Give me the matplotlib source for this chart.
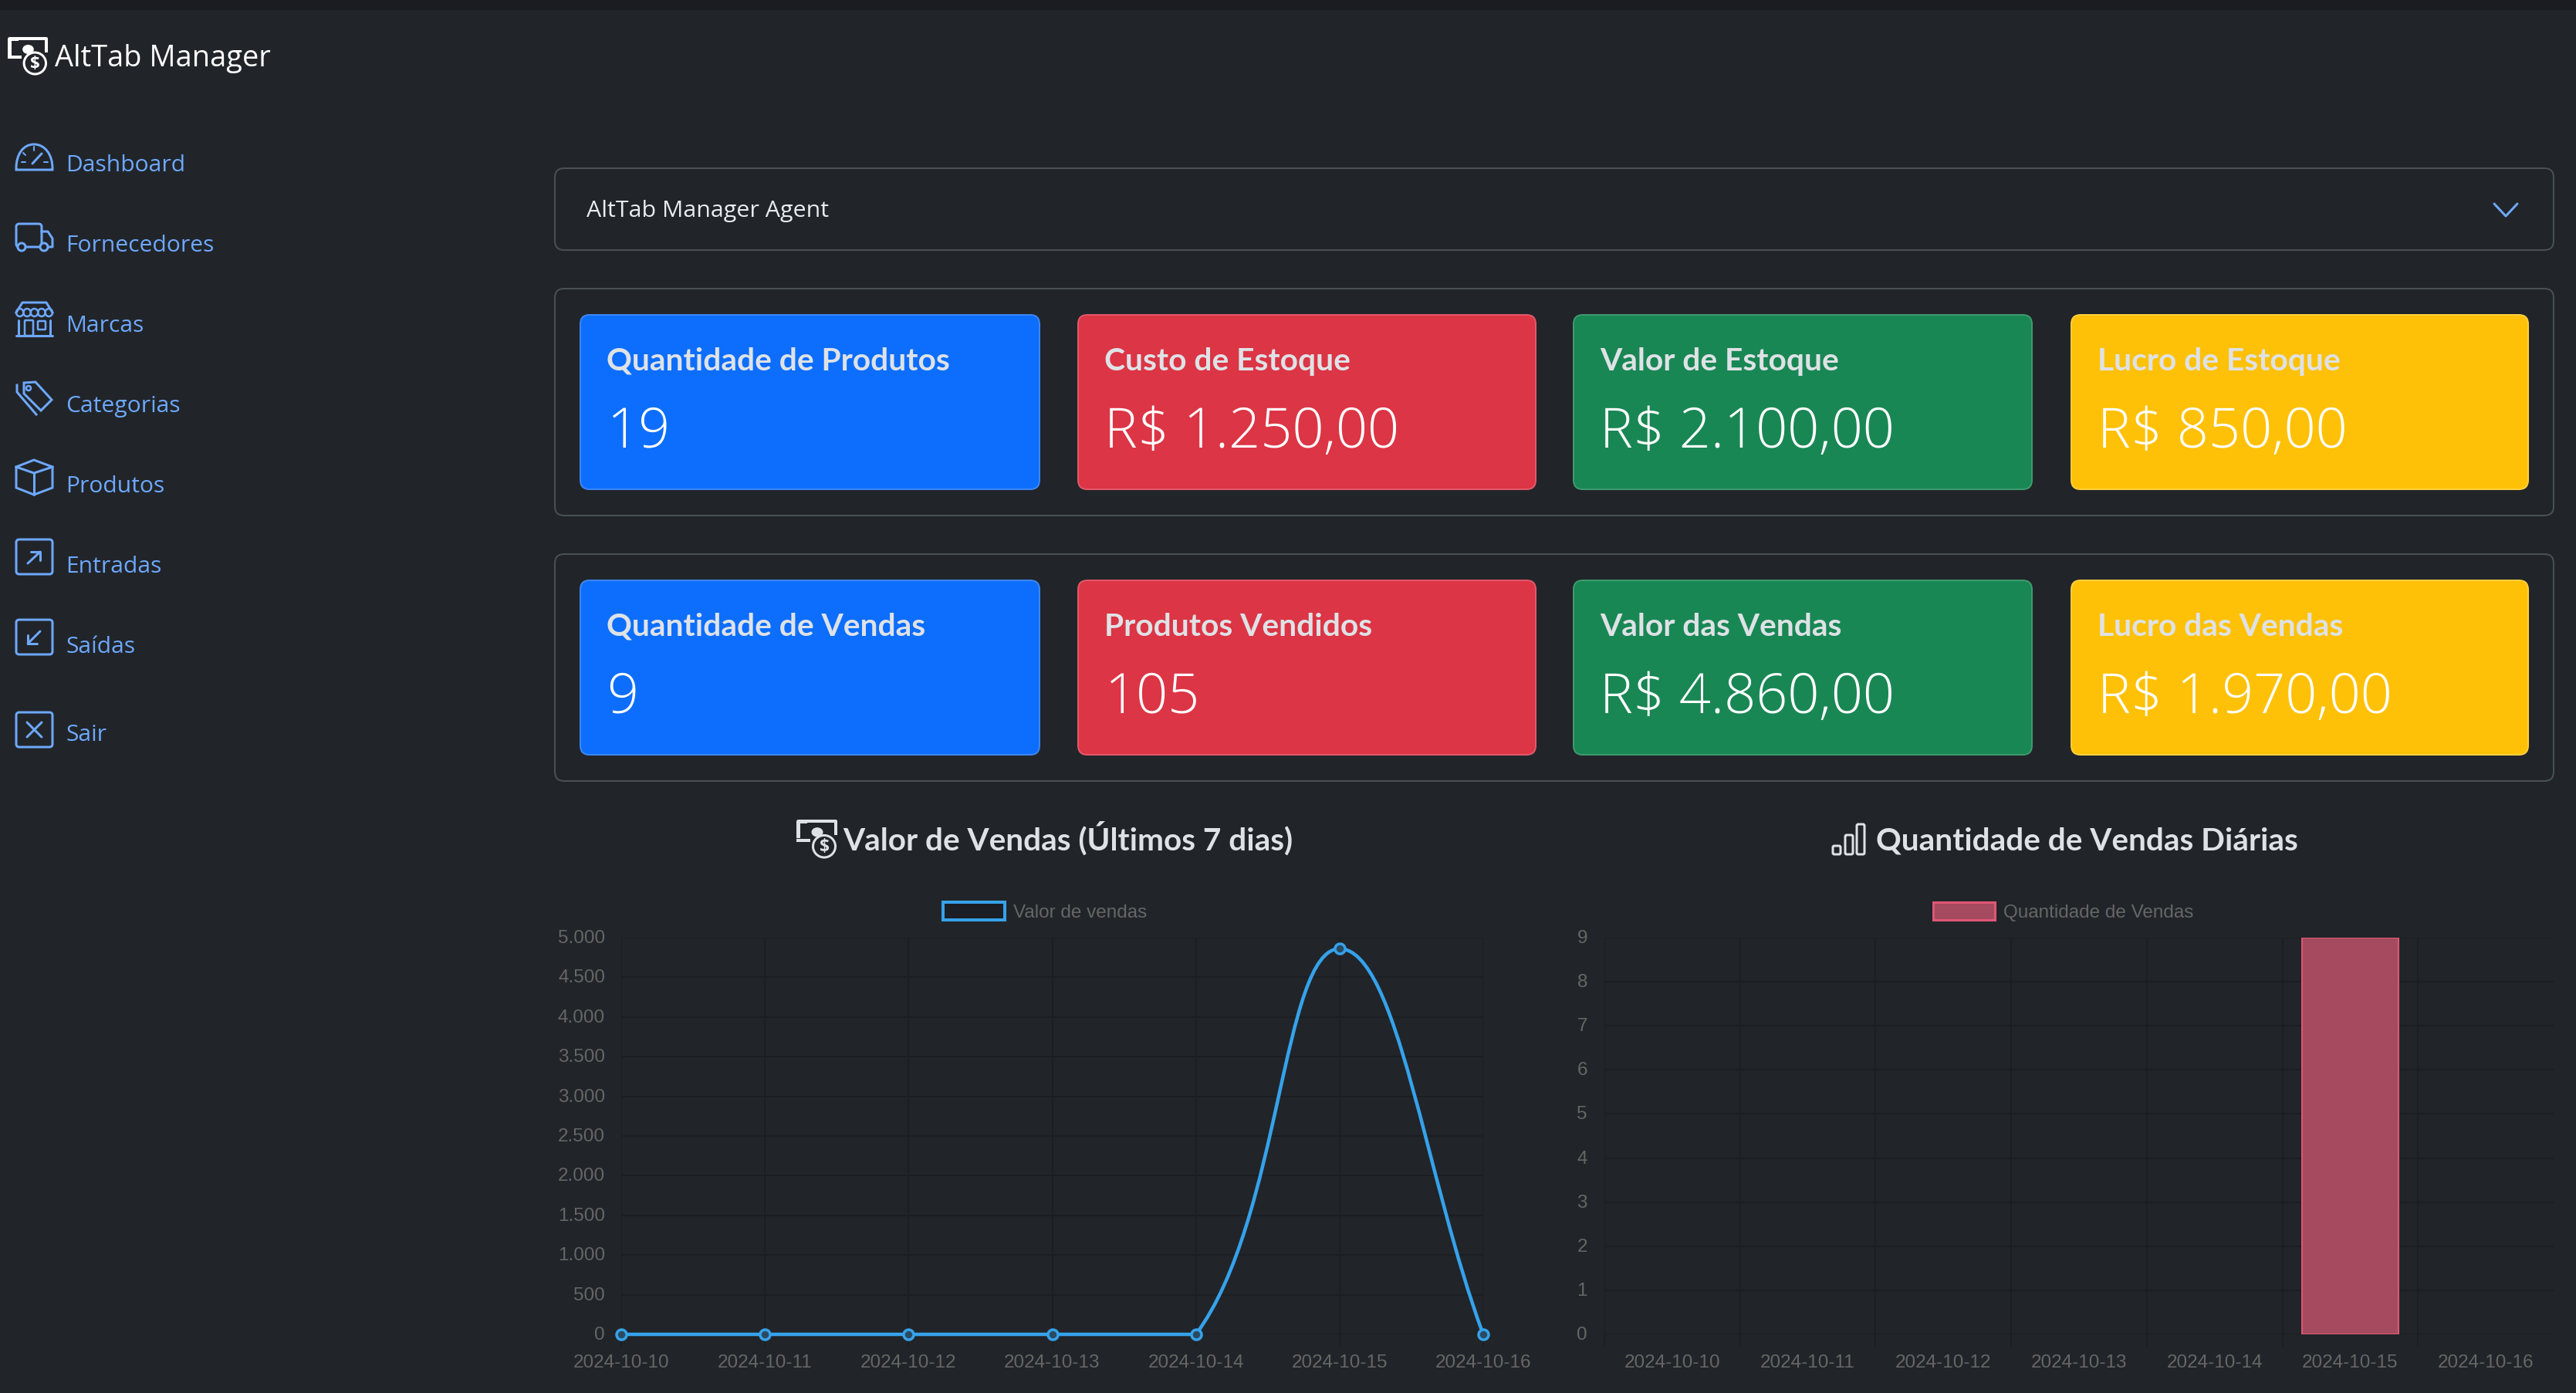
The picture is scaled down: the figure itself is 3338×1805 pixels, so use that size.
import numpy as np
import matplotlib
matplotlib.use("Agg")
import matplotlib.pyplot as plt
from matplotlib.patches import FancyBboxPatch, Rectangle, Circle, Ellipse, Patch, PathPatch, Polygon
from matplotlib.path import Path
from matplotlib.transforms import ScaledTranslation

# dados
dias = ["2024-10-10", "2024-10-11", "2024-10-12", "2024-10-13", "2024-10-14", "2024-10-15", "2024-10-16"]
valor_vendas = [0, 0, 0, 0, 0, 4860, 0]
qtd_vendas = [0, 0, 0, 0, 0, 9, 0]
ticks_valor = [0, 500, 1000, 1500, 2000, 2500, 3000, 3500, 4000, 4500, 5000]
ticks_valor_txt = ["0", "500", "1.000", "1.500", "2.000", "2.500", "3.000", "3.500", "4.000", "4.500", "5.000"]
ticks_qtd = [0, 1, 2, 3, 4, 5, 6, 7, 8, 9]

menu = ["Dashboard", "Fornecedores", "Marcas", "Categorias", "Produtos", "Entradas", "Saídas", "Sair"]
titulos_1 = ["Quantidade de Produtos", "Custo de Estoque", "Valor de Estoque", "Lucro de Estoque"]
valores_1 = ["19", "R$ 1.250,00", "R$ 2.100,00", "R$ 850,00"]
titulos_2 = ["Quantidade de Vendas", "Produtos Vendidos", "Valor das Vendas", "Lucro das Vendas"]
valores_2 = ["9", "105", "R$ 4.860,00", "R$ 1.970,00"]

BG = "#212529"
AZUL = "#6ea8fe"
CORES = ["#0d6efd", "#dc3545", "#198754", "#ffc107"]
BORDAS = ["#3f86f2", "#e2586a", "#3f9a6f", "#ffcf3d"]
CARD_X = [(752, 1347), (1397, 1990), (2039, 2633), (2684, 3276)]
GRID = "#1b1e22"
CINZA = "#666666"
SANS = "Open Sans"
TITULO = "Lato"
px = 0.72  # pixels -> pontos (dpi 100)

fig = plt.figure(figsize=(33.38, 18.06), dpi=100, facecolor=BG)
ui = fig.add_axes([0, 0, 1, 1])
ui.set_xlim(0, 3338)
ui.set_ylim(1806, 0)
ui.axis("off")


def caixa(x0, y0, x1, y1, fc, ec, r=12, lw=2):
    ui.add_patch(FancyBboxPatch((x0, y0), x1 - x0, y1 - y0, boxstyle=f"round,pad=0,rounding_size={r}",
                                fc=fc, ec=ec, lw=lw * px))


def traco(xs, ys, cor=AZUL, lw=3):
    ui.plot(xs, ys, color=cor, lw=lw * px, solid_capstyle="round", solid_joinstyle="round")


def ret(x0, y0, x1, y1, cor=AZUL, lw=3, r=4):
    caixa(x0, y0, x1, y1, "none", cor, r=r, lw=lw)


def icone_dinheiro(x, y, w, h, cor="#ffffff"):
    # nota com moeda, usado na marca e no titulo
    sx, sy = w / 49, h / 47
    ui.plot([x, x, x + 9 * sx], [y + 20 * sy, y + 1 * sy, y + 1 * sy], color=cor, lw=5 * px)
    ui.plot([x + 9 * sx, x + 49 * sx, x + 49 * sx], [y + 1 * sy, y + 1 * sy, y + 17 * sy], color=cor, lw=4 * px)
    ui.plot([x, x + 14 * sx], [y + 25 * sy, y + 25 * sy], color=cor, lw=4 * px)
    ui.add_patch(Ellipse((x + 25 * sx, y + 15 * sy), 15 * sx, 12 * sy, fc=cor, ec="none"))
    ui.add_patch(Ellipse((x + 34 * sx, y + 33 * sy), 29 * sx, 28 * sy, fc=BG, ec=cor, lw=3 * px))
    ui.text(x + 34 * sx, y + 33 * sy, "$", color=cor, fontsize=17 * sy * px * 1.3, fontweight="bold",
            family=SANS, ha="center", va="center")


def icone_menu(i, y):
    # x de 21 a 68, y = topo
    if i == 0:  # velocimetro
        ui.add_patch(PathPatch(Path([(21, y + 32), (21, y + 14), (30, y + 1), (44, y + 1), (58, y + 1), (68, y + 14),
                                     (68, y + 32), (68, y + 34), (21, y + 34), (21, y + 32)],
                                    [1, 4, 4, 4, 4, 4, 4, 2, 2, 2]), fc="none", ec=AZUL, lw=3 * px))
        traco([42, 54], [y + 26, y + 13])
        traco([44, 44], [y + 4, y + 9], lw=2)
        traco([28, 33], [y + 24, y + 24], lw=2)
        traco([57, 62], [y + 24, y + 24], lw=2)
        traco([30, 33], [y + 12, y + 15], lw=2)
    elif i == 1:  # caminhao
        ret(21, y + 1, 54, y + 31)
        ui.plot([54, 62, 68, 68, 60], [y + 11, y + 11, y + 20, y + 31, y + 31], color=AZUL, lw=3 * px)
        ui.add_patch(Circle((28, y + 31), 5, fc=BG, ec=AZUL, lw=3 * px, zorder=3))
        ui.add_patch(Circle((57, y + 31), 5, fc=BG, ec=AZUL, lw=3 * px, zorder=3))
    elif i == 2:  # loja
        ui.plot([21, 29, 60, 68], [y + 14, y + 1, y + 1, y + 14], color=AZUL, lw=3 * px)
        for k in range(5):
            ui.add_patch(Ellipse((25.7 + k * 9.4, y + 14), 9.4, 10, fc="none", ec=AZUL, lw=2.5 * px))
        traco([21, 68], [y + 44, y + 44])
        traco([24, 24], [y + 24, y + 44])
        traco([65, 65], [y + 24, y + 44])
        ret(32, y + 24, 43, y + 44, r=1, lw=2.5)
        ret(49, y + 25, 59, y + 36, r=1, lw=2.5)
    elif i == 3:  # etiquetas
        ui.add_patch(Polygon([(31, y + 2), (46, y + 1), (67, y + 24), (53, y + 38), (31, y + 16)], fc="none", ec=AZUL, lw=3 * px))
        ui.plot([22, 22, 47], [y + 5, y + 14, y + 43], color=AZUL, lw=3 * px)
        ui.add_patch(Circle((37, y + 9), 3, fc="none", ec=AZUL, lw=2.5 * px))
    elif i == 4:  # caixa
        ui.add_patch(Polygon([(21, y + 10), (44, y + 1), (68, y + 10), (68, y + 37), (44, y + 46), (21, y + 37)], fc="none", ec=AZUL, lw=3 * px))
        ui.plot([21, 44, 68], [y + 10, y + 18, y + 10], color=AZUL, lw=3 * px)
        traco([44, 44], [y + 18, y + 46])
    else:  # quadrados com seta / x
        ret(21, y, 68, y + 45)
        if i == 5:
            traco([36, 52], [y + 31, y + 16])
            traco([40, 52, 52], [y + 16, y + 16, y + 27])
        elif i == 6:
            traco([36, 52], [y + 31, y + 15])
            traco([36, 36, 48], [y + 20, y + 31, y + 31])
        else:
            traco([35, 54], [y + 13, y + 32])
            traco([54, 35], [y + 13, y + 32])


# faixa de cima
ui.add_patch(Rectangle((0, 0), 3338, 14, fc="#1a1c21", ec="none"))

# menu lateral
icone_dinheiro(12, 50, 48, 47)
ui.text(71, 86, "AltTab Manager", color="#ffffff", fontsize=38 * px, family=SANS, va="baseline")
base_menu = [222, 326, 430, 534, 638, 742, 846, 960]
topo_icone = [187, 290, 392, 495, 596, 700, 804, 924]
for i, nome in enumerate(menu):
    icone_menu(i, topo_icone[i])
    ui.text(85, base_menu[i], nome, color=AZUL, fontsize=30 * px, family=SANS, va="baseline")

# seletor
caixa(719, 219, 3309, 325, "none", "#495057", r=12)
ui.text(760, 281, "AltTab Manager Agent", color="#e9ecef", fontsize=30.4 * px, family=SANS, va="baseline")
traco([3232, 3247, 3262], [265, 281, 265], lw=3)

# cards
for topo, titulos, valores in [(375, titulos_1, valores_1), (719, titulos_2, valores_2)]:
    caixa(719, topo, 3309, topo + 294, "none", "#495057", r=12)
    for j in range(4):
        x0, x1 = CARD_X[j]
        caixa(x0, topo + 34, x1, topo + 260, CORES[j], BORDAS[j], r=12)
        ui.text(x0 + 34, topo + 105, titulos[j], color="#dee2e6", fontsize=40.7 * px, family=TITULO,
                fontweight="bold", va="baseline")
        ui.text(x0 + 34, topo + 205, valores[j], color="#ffffff", fontsize=72 * px, family=SANS,
                fontweight="light", va="baseline")

# titulos dos graficos
icone_dinheiro(1034, 1064, 49, 48, cor="#dee2e6")
ui.text(1092, 1102, "Valor de Vendas (Últimos 7 dias)", color="#dee2e6", fontsize=40.5 * px, family=TITULO,
        fontweight="bold", va="baseline")
for x0, y0, x1 in [(2375, 1097, 2385), (2391, 1083, 2401), (2406, 1069, 2416)]:
    ret(x0, y0, x1, 1108, cor="#dee2e6", lw=3, r=2)
ui.text(2431, 1102, "Quantidade de Vendas Diárias", color="#dee2e6", fontsize=40.5 * px, family=TITULO,
        fontweight="bold", va="baseline")


def eixo(x0, y0, x1, y1):
    ax = fig.add_axes([x0 / 3338, 1 - y1 / 1806, (x1 - x0) / 3338, (y1 - y0) / 1806])
    ax.patch.set_alpha(0)
    for s in ax.spines.values():
        s.set_visible(False)
    ax.tick_params(colors=CINZA, labelsize=24.2 * px, color=GRID)
    return ax


plt.rcParams["font.family"] = "Liberation Sans"
sobe = ScaledTranslation(0, 2.5 / 100, fig.dpi_scale_trans)  # rotulos do eixo y um pouco acima da grade

# grafico de linha
ax1 = eixo(805, 1216, 1922, 1730)
ax1.set_xlim(0, 6)
ax1.set_ylim(0, 5000)
ax1.set_xticks(range(7), dias)
ax1.set_yticks(ticks_valor, ticks_valor_txt)
ax1.grid(True, color=GRID, lw=2 * px)
ax1.set_axisbelow(True)
ax1.tick_params(axis="x", length=16 * px, width=2 * px, pad=9 * px)
ax1.tick_params(axis="y", length=0, pad=21 * px)
for t in ax1.get_yticklabels():
    t.set_transform(t.get_transform() + sobe)

# curva bezier do chart.js (tension 0.4) a partir dos pontos
xd = np.arange(len(valor_vendas))
pts = ax1.transData.transform(np.column_stack([xd, valor_vendas]))
verts = [tuple(pts[0])]
codes = [Path.MOVETO]
ctrl_next = pts[0] + 0.4 * (pts[1] - pts[0])
for k in range(1, len(pts)):
    if k < len(pts) - 1:
        d01 = np.hypot(*(pts[k] - pts[k - 1]))
        d12 = np.hypot(*(pts[k + 1] - pts[k]))
        viz = pts[k + 1] - pts[k - 1]
        prev_cp = pts[k] - 0.4 * d01 / (d01 + d12) * viz
        next_cp = pts[k] + 0.4 * d12 / (d01 + d12) * viz
    else:
        prev_cp = pts[k] - 0.4 * (pts[k] - pts[k - 1])
        next_cp = pts[k].copy()
    prev_cp[1] = max(prev_cp[1], pts[0][1])
    next_cp[1] = max(next_cp[1], pts[0][1])
    verts += [tuple(ctrl_next), tuple(prev_cp), tuple(pts[k])]
    codes += [Path.CURVE4, Path.CURVE4, Path.CURVE4]
    ctrl_next = next_cp
curva = Path(ax1.transData.inverted().transform(verts), codes)
ax1.add_patch(PathPatch(curva, fc="none", ec="#36a2eb", lw=4.5 * px, clip_on=False, zorder=3))
ax1.plot(xd, valor_vendas, ls="none", marker="o", ms=13 * px, mfc="#2a4a60", mec="#36a2eb", mew=3.5 * px,
         clip_on=False, zorder=4)
ax1.legend(handles=[Patch(fc="#1b1e24", ec="#36a2eb", lw=4 * px, label="Valor de vendas")], loc="center",
           bbox_to_anchor=(1354, 1182), bbox_transform=ui.transData, frameon=False, labelcolor=CINZA,
           fontsize=24.2 * px, handlelength=3.3, handleheight=1.11, handletextpad=0.45, borderpad=0)

# grafico de barras
ax2 = eixo(2079, 1216, 3309, 1730)
ax2.set_xlim(-0.5, 6.5)
ax2.set_ylim(0, 9)
ax2.set_xticks(range(7), dias)
ax2.set_xticks(np.arange(7) - 0.5, minor=True)
ax2.set_yticks(ticks_qtd)
ax2.grid(True, which="minor", axis="x", color=GRID, lw=2 * px)
ax2.grid(True, which="major", axis="y", color=GRID, lw=2 * px)
ax2.set_axisbelow(True)
ax2.tick_params(axis="x", which="major", length=0, pad=25 * px)
ax2.tick_params(axis="x", which="minor", length=16 * px, width=2 * px, color=GRID)
ax2.tick_params(axis="y", length=0, pad=22 * px)
for t in ax2.get_yticklabels():
    t.set_transform(t.get_transform() + sobe)
barras = ax2.bar(range(7), qtd_vendas, width=0.715, fc="#a64a60", ec="#e05674", lw=2 * px)
for b, q in zip(barras, qtd_vendas):
    b.set_visible(q > 0)
ax2.legend(handles=[Patch(fc="#a64a60", ec="#e05674", lw=3 * px, label="Quantidade de Vendas")], loc="center",
           bbox_to_anchor=(2674, 1182), bbox_transform=ui.transData, frameon=False, labelcolor=CINZA,
           fontsize=24.2 * px, handlelength=3.3, handleheight=1.11, handletextpad=0.45, borderpad=0)

fig.savefig("out.png", dpi=100, facecolor=BG)
